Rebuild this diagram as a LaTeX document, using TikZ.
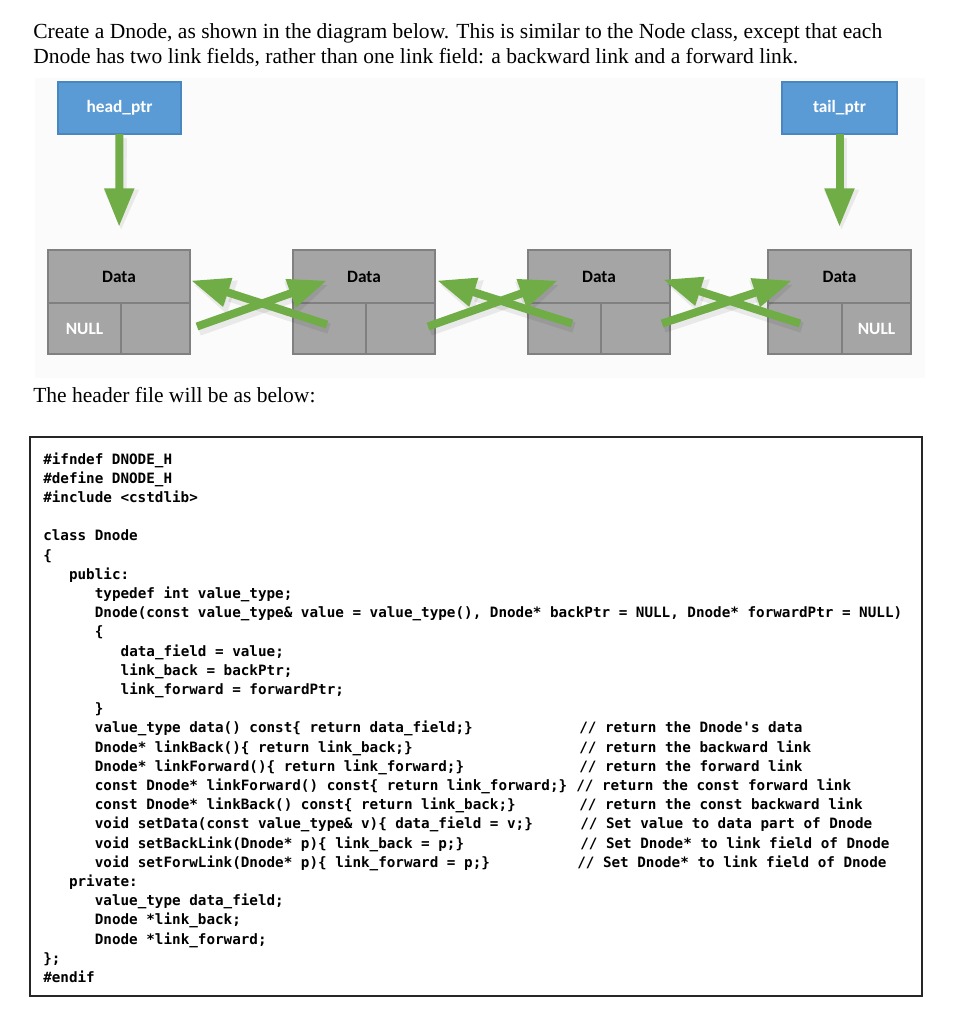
\documentclass[tikz,border=0pt]{standalone}
\usepackage{fontspec}
\setmainfont{Liberation Serif}
\newfontfamily\calibri{Carlito}
\newfontfamily\codefont{DejaVu Sans Mono}
\usetikzlibrary{arrows.meta,calc}
\definecolor{linkgreen}{HTML}{70AD47}
\definecolor{ptrblue}{HTML}{5B9BD5}
\definecolor{ptrborder}{HTML}{4A86BF}
\definecolor{cellgray}{HTML}{A5A5A5}
\definecolor{cellborder}{HTML}{808080}
\definecolor{diagbg}{HTML}{FBFBFB}
\newcommand\codeln[3]{\node[codeline] (c#1) at ({43+#2*8.6},{464+(#1-1)*19.2}) {#3};}
\newcommand\cmtln[3]{\node[codeline] (m#1) at (#2,{464+(#1-1)*19.2}) {#3};}
\begin{document}
\begin{tikzpicture}[x=0.75pt,y=-0.75pt,
  cell/.style={draw=cellborder, fill=cellgray, line width=0.9pt, inner sep=0pt, outer sep=0pt, anchor=north west,
    font=\calibri\bfseries\fontsize{13}{15}\selectfont, text=white},
  datacell/.style={cell, minimum height=39.75pt, text=black},
  linkcell/.style={cell, minimum height=38.25pt},
  ptr/.style={draw=ptrborder, fill=ptrblue, line width=0.9pt, inner sep=0pt, outer sep=0pt, anchor=north west,
    minimum height=39pt, font=\calibri\bfseries\fontsize{13}{15}\selectfont, text=white},
  link/.style={draw=linkgreen, line width=6pt, -{Triangle[length=29pt,width=21pt]}},
  linkshadow/.style={draw=black, opacity=0.07, line width=8pt, -{Triangle[length=31pt,width=24pt]},
    transform canvas={shift={(1.5pt,-3pt)}}},
  prose/.style={anchor=base west, inner sep=0pt, font=\fontsize{16.15}{19}\selectfont},
  codeline/.style={anchor=base west, inner sep=0pt, font=\codefont\bfseries\fontsize{10.7}{14}\selectfont}
]
\useasboundingbox (0,0) rectangle (971,1024);
\fill[white] (0,0) rectangle (971,1024);

% prose
\node[prose] (t1) at (33,39) {Create a Dnode, as shown in the diagram below. This is similar to the Node class, except that each};
\node[prose] (t2) at (33,64) {Dnode has two link fields, rather than one link field: a backward link and a forward link.};
\node[prose] (t3) at (33,402) {The header file will be as below:};

% diagram
\fill[diagbg] (35,78) rectangle (925,378);
\node[ptr, minimum width=92.25pt] (hp) at (58,82) {head\_ptr};
\node[ptr, minimum width=86.25pt] (tp) at (782,82) {tail\_ptr};

\node[datacell, minimum width=106.5pt] (d1) at (48,250) {Data};
\node[linkcell, minimum width=54.75pt] (b1) at (48,303) {NULL};
\node[linkcell, minimum width=51.75pt] (f1) at (121,303) {};
\node[datacell, minimum width=106.5pt] (d2) at (293,250) {Data};
\node[linkcell, minimum width=54.75pt] (b2) at (293,303) {};
\node[linkcell, minimum width=51.75pt] (f2) at (366,303) {};
\node[datacell, minimum width=106.5pt] (d3) at (528,250) {Data};
\node[linkcell, minimum width=54.75pt] (b3) at (528,303) {};
\node[linkcell, minimum width=51.75pt] (f3) at (601,303) {};
\node[datacell, minimum width=107.25pt] (d4) at (768,250) {Data};
\node[linkcell, minimum width=55.5pt] (b4) at (768,303) {};
\node[linkcell, minimum width=51.75pt] (f4) at (842,303) {NULL};

% shadows
\draw[linkshadow, shorten >=17.25pt] (hp.south) -- (d1.north);
\draw[linkshadow, shorten >=17.25pt] (tp.south) -- (d4.north);
\draw[linkshadow] ($(f1.east)+(7,-2)$) -- ($(d2.west)+(34,4)$);
\draw[linkshadow] ($(b2.west)+(34,-4)$) -- ($(d1.east)+(1,4)$);
\draw[linkshadow] ($(f2.east)+(-7,-2)$) -- ($(d3.west)+(30,4)$);
\draw[linkshadow] ($(b3.west)+(44,-5)$) -- ($(d2.east)+(2,4)$);
\draw[linkshadow] ($(f3.east)+(-8,-5)$) -- ($(d4.west)+(24,4)$);
\draw[linkshadow] ($(b4.west)+(32,-5)$) -- ($(d3.east)+(-7,3)$);

% pointer arrows
\draw[link, shorten >=17.25pt] (hp.south) -- (d1.north);
\draw[link, shorten >=17.25pt] (tp.south) -- (d4.north);

% links
\draw[link] ($(f1.east)+(7,-2)$) -- ($(d2.west)+(34,4)$);
\draw[link] ($(b2.west)+(34,-4)$) -- ($(d1.east)+(1,4)$);
\draw[link] ($(f2.east)+(-7,-2)$) -- ($(d3.west)+(30,4)$);
\draw[link] ($(b3.west)+(44,-5)$) -- ($(d2.east)+(2,4)$);
\draw[link] ($(f3.east)+(-8,-5)$) -- ($(d4.west)+(24,4)$);
\draw[link] ($(b4.west)+(32,-5)$) -- ($(d3.east)+(-7,3)$);

% code box
\node[draw=black!85, line width=1.1pt, inner sep=0pt, outer sep=0pt, anchor=north west,
  minimum width=669pt, minimum height=419.25pt] (codebox) at (30,437) {};

\codeln{1}{0}{\#ifndef DNODE\_H}
\codeln{2}{0}{\#define DNODE\_H}
\codeln{3}{0}{\#include <cstdlib>}
\codeln{5}{0}{class Dnode}
\codeln{6}{0}{\{}
\codeln{7}{3}{public:}
\codeln{8}{6}{typedef int value\_type;}
\codeln{9}{6}{Dnode(const value\_type\& value = value\_type(), Dnode* backPtr = NULL, Dnode* forwardPtr = NULL)}
\codeln{10}{6}{\{}
\codeln{11}{9}{data\_field = value;}
\codeln{12}{9}{link\_back = backPtr;}
\codeln{13}{9}{link\_forward = forwardPtr;}
\codeln{14}{6}{\}}
\codeln{15}{6}{value\_type data() const\{ return data\_field;\}}
\codeln{16}{6}{Dnode* linkBack()\{ return link\_back;\}}
\codeln{17}{6}{Dnode* linkForward()\{ return link\_forward;\}}
\codeln{18}{6}{const Dnode* linkForward() const\{ return link\_forward;\}}
\codeln{19}{6}{const Dnode* linkBack() const\{ return link\_back;\}}
\codeln{20}{6}{void setData(const value\_type\& v)\{ data\_field = v;\}}
\codeln{21}{6}{void setBackLink(Dnode* p)\{ link\_back = p;\}}
\codeln{22}{6}{void setForwLink(Dnode* p)\{ link\_forward = p;\}}
\codeln{23}{3}{private:}
\codeln{24}{6}{value\_type data\_field;}
\codeln{25}{6}{Dnode *link\_back;}
\codeln{26}{6}{Dnode *link\_forward;}
\codeln{27}{0}{\};}
\codeln{28}{0}{\#endif}

\cmtln{15}{579}{// return the Dnode's data}
\cmtln{16}{579}{// return the backward link}
\cmtln{17}{579}{// return the forward link}
\cmtln{18}{576}{// return the const forward link}
\cmtln{19}{579}{// return the const backward link}
\cmtln{20}{580}{// Set value to data part of Dnode}
\cmtln{21}{580}{// Set Dnode* to link field of Dnode}
\cmtln{22}{577}{// Set Dnode* to link field of Dnode}
\end{tikzpicture}
\end{document}
